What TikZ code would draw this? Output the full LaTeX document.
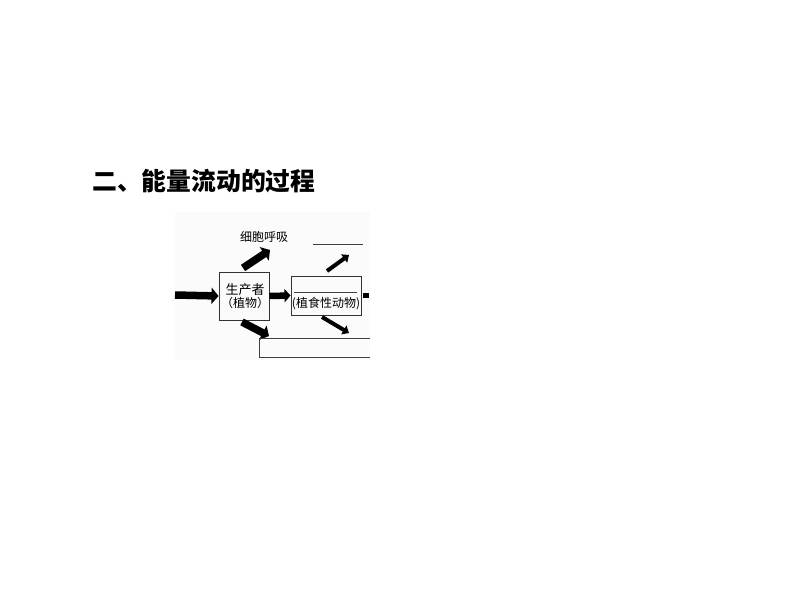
\documentclass[tikz,border=0pt]{standalone}
\usepackage{fontspec}
\usetikzlibrary{arrows.meta}
\newfontfamily\cjk{Noto Sans CJK SC}
\tikzset{
    every node/.style={inner sep=0pt, font=\cjk},
    box/.style={draw=black!80, line width=0.9pt, rectangle},
    bigarrow/.style={line width=7.5pt, -{Triangle[length=7pt, width=16pt]}},
    thinarrow/.style={line width=4pt, -{Triangle[length=6pt, width=10pt]}},
    blank/.style={draw=black!75, line width=0.9pt}
}

\begin{document}
\begin{tikzpicture}[x=1pt, y=-1pt]
    \useasboundingbox (0,0) rectangle (794,596);
    \fill[black!1.5] (175,212) rectangle (370,360);

    \node (title) [anchor=west, font=\cjk\bfseries\fontsize{24.8}{26}\selectfont] at (92,181) {二、能量流动的过程};

    \node (prod) [box, minimum width=50pt, minimum height=48pt] at (244,296) {};
    \node (prodA) [font=\cjk\fontsize{13}{14}\selectfont] at (245,290) {生产者};
    \node (prodB) [font=\cjk\fontsize{12}{13}\selectfont] at (245,303) {（植物）};

    \node (herb) [box, minimum width=70pt, minimum height=39pt] at (326,295.5) {};
    \node (herbB) [font=\cjk\fontsize{12}{13}\selectfont] at (326,304) {(植食性动物)};
    \coordinate (herbL) at (294,292);
    \coordinate (herbR) at (357,292);

    \node (resp) [font=\cjk\fontsize{12}{13}\selectfont] at (264,237) {细胞呼吸};
    \coordinate (respL) at (313,244);
    \coordinate (respR) at (363,244);

    \coordinate (sun) at (175,295);
    \coordinate (up1) at (243,268);
    \coordinate (up1e) at (270,250);
    \coordinate (dn1) at (242,322);
    \coordinate (dn1e) at (269,336);
    \coordinate (up2) at (327,271);
    \coordinate (up2e) at (349,255);
    \coordinate (dn2) at (322,317);
    \coordinate (dn2e) at (349,333);

    \coordinate (decA) at (370,338);
    \coordinate (decB) at (259,338);
    \coordinate (decC) at (259,357);
    \coordinate (decD) at (370,357);

    \draw[bigarrow] (sun) -- (prod.west);
    \draw[bigarrow] (up1) -- (up1e);
    \draw[bigarrow] (dn1) -- (dn1e);
    \draw[line width=6.5pt, -{Triangle[length=6pt, width=13pt]}] (prod.east) -- (herb.west);
    \draw[thinarrow] (up2) -- (up2e);
    \draw[thinarrow] (dn2) -- (dn2e);
    \fill (herb.east) ++(1.5,-2.5) rectangle ++(6,5);

    \draw[blank] (herbL) -- (herbR);
    \draw[blank] (respL) -- (respR);
    \draw[blank] (decA) -- (decB) -- (decC) -- (decD);
\end{tikzpicture}
\end{document}
